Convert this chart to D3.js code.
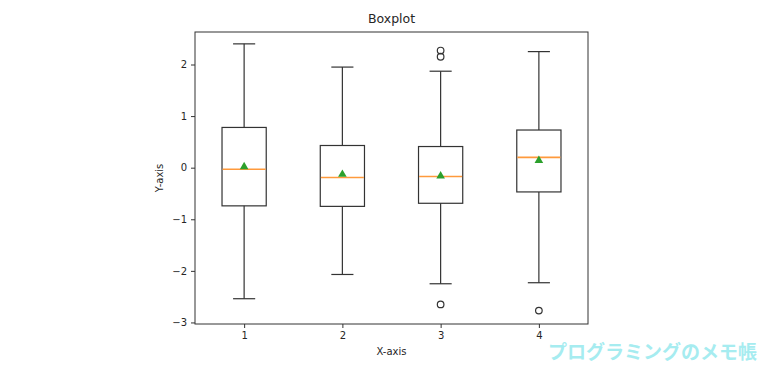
<!DOCTYPE html>
<html>
<head>
<meta charset="utf-8">
<script src="https://cdn.jsdelivr.net/npm/d3@7"></script>
<style>
  html, body { margin: 0; padding: 0; background: #fff; }
  svg { display: block; }
  text { font-family: "DejaVu Sans", sans-serif; fill: #262626; }
</style>
</head>
<body>
<svg id="chart" width="768" height="384"></svg>
<script>
// ---- data ----
const categories = [1, 2, 3, 4];
const whiskerHigh = [2.40, 1.95, 1.87, 2.25];
const q3Values    = [0.78, 0.43, 0.41, 0.73];
const medians     = [-0.03, -0.19, -0.17, 0.20];
const means       = [0.02, -0.13, -0.16, 0.14];
const q1Values    = [-0.74, -0.75, -0.69, -0.47];
const whiskerLow  = [-2.54, -2.07, -2.25, -2.23];
const fliers      = [[], [], [2.27, 2.15, -2.65], [-2.77]];
const yTicks = [-3, -2, -1, 0, 1, 2];

const svg = d3.select("#chart");
const pLeft = 195, pRight = 588, pTop = 32, pBottom = 324;
const ink = "#333";

const x = d3.scaleLinear().domain([0.5, 4.5]).range([pLeft, pRight]);
const y = d3.scaleLinear().domain([-3.03, 2.63]).range([pBottom, pTop]);

const boxW = x(0.45) - x(0);
const capW = boxW / 2;

// axes
const xAxis = d3.axisBottom(x).tickValues(categories).tickFormat(d3.format("d")).tickSize(4).tickPadding(4);
const yAxis = d3.axisLeft(y).tickValues(yTicks).tickFormat(d => d < 0 ? "\u2212" + Math.abs(d) : d).tickSize(4).tickPadding(4);

const gx = svg.append("g").attr("transform", `translate(0,${pBottom})`).call(xAxis);
const gy = svg.append("g").attr("transform", `translate(${pLeft},0)`).call(yAxis);
[gx, gy].forEach(g => {
  g.select(".domain").remove();
  g.selectAll("line").attr("stroke", ink).attr("stroke-width", 1);
  g.selectAll("text").attr("font-size", 10).attr("fill", "#262626").style("font-family", "DejaVu Sans");
});

// frame
svg.append("rect").attr("x", pLeft).attr("y", pTop).attr("width", pRight - pLeft).attr("height", pBottom - pTop)
  .attr("fill", "none").attr("stroke", ink).attr("stroke-width", 1);

// boxes
const data = categories.map((c, i) => ({
  c, hi: whiskerHigh[i], q3: q3Values[i], med: medians[i], mean: means[i], q1: q1Values[i], lo: whiskerLow[i], fl: fliers[i]
}));

const g = svg.append("g");
const sw = 1.2;
data.forEach(d => {
  const cx = x(d.c);
  g.append("line").attr("x1", cx).attr("x2", cx).attr("y1", y(d.q3)).attr("y2", y(d.hi)).attr("stroke", ink).attr("stroke-width", sw);
  g.append("line").attr("x1", cx).attr("x2", cx).attr("y1", y(d.q1)).attr("y2", y(d.lo)).attr("stroke", ink).attr("stroke-width", sw);
  g.append("line").attr("x1", cx - capW / 2).attr("x2", cx + capW / 2).attr("y1", y(d.hi)).attr("y2", y(d.hi)).attr("stroke", ink).attr("stroke-width", sw);
  g.append("line").attr("x1", cx - capW / 2).attr("x2", cx + capW / 2).attr("y1", y(d.lo)).attr("y2", y(d.lo)).attr("stroke", ink).attr("stroke-width", sw);
  g.append("rect").attr("x", cx - boxW / 2).attr("y", y(d.q3)).attr("width", boxW).attr("height", y(d.q1) - y(d.q3))
    .attr("fill", "none").attr("stroke", ink).attr("stroke-width", sw);
  g.append("line").attr("x1", cx - boxW / 2 + 0.6).attr("x2", cx + boxW / 2 - 0.6).attr("y1", y(d.med)).attr("y2", y(d.med))
    .attr("stroke", "#ff9a3c").attr("stroke-width", 1.6);
  g.append("path").attr("d", d3.symbol().type(d3.symbolTriangle).size(32)())
    .attr("transform", `translate(${cx},${y(d.mean)})`).attr("fill", "#2ca02c");
  d.fl.forEach(v => {
    g.append("circle").attr("cx", cx).attr("cy", y(v)).attr("r", 3.3).attr("fill", "none").attr("stroke", ink).attr("stroke-width", sw);
  });
});

// titles
svg.append("text").attr("x", (pLeft + pRight) / 2).attr("y", 23).attr("text-anchor", "middle").attr("font-size", 12.5).text("Boxplot");
svg.append("text").attr("x", (pLeft + pRight) / 2).attr("y", 355).attr("text-anchor", "middle").attr("font-size", 10).text("X-axis");
svg.append("text").attr("transform", `translate(163,${(pTop + pBottom) / 2}) rotate(-90)`).attr("text-anchor", "middle").attr("font-size", 10).text("Y-axis");

// watermark
svg.append("text").attr("x", 548).attr("y", 359).attr("font-size", 19).attr("font-weight", "bold")
  .style("font-family", "'Noto Sans CJK JP', sans-serif").style("fill", "#a6ecf0").text("プログラミングのメモ帳");
</script>
</body>
</html>
